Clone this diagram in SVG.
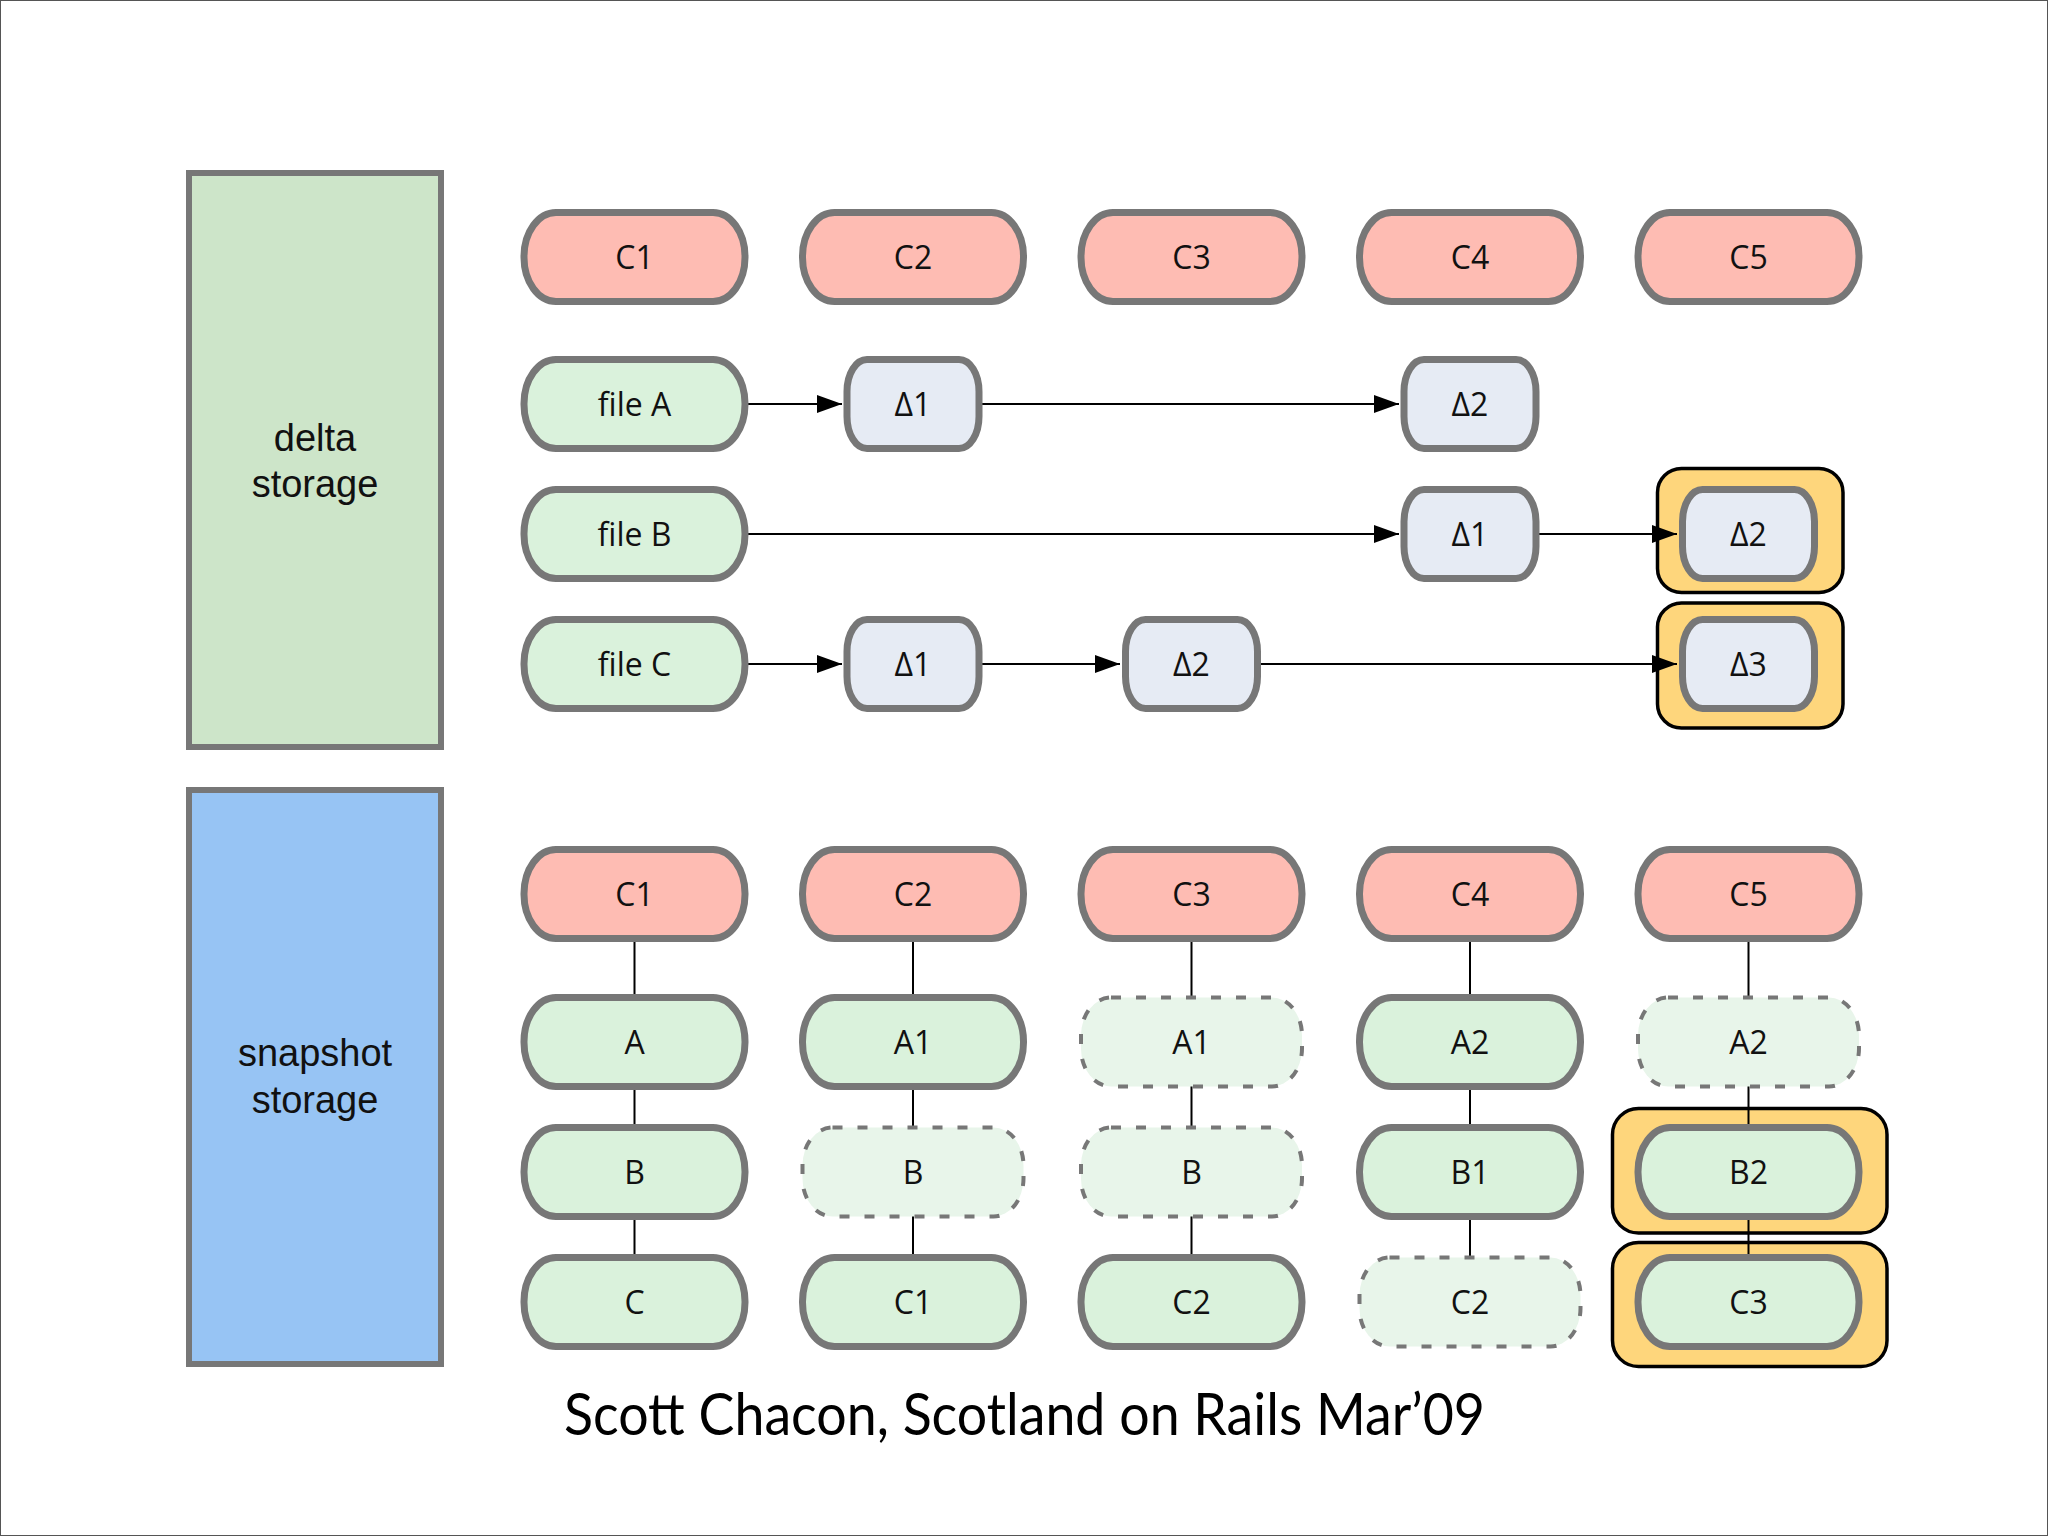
<svg xmlns="http://www.w3.org/2000/svg" width="2048" height="1536" viewBox="0 0 2048 1536">
<defs>
<style>
.commit{fill:#febcb3;stroke:#777;stroke-width:7}
.file{fill:#daf2dc;stroke:#777;stroke-width:7}
.delta{fill:#e6ebf4;stroke:#777;stroke-width:7}
.ghost{fill:#e8f5ea;stroke:#777;stroke-width:4;stroke-dasharray:10 15}
.hl{fill:#fed67c;stroke:#000;stroke-width:3.5}
.panel{stroke:#777;stroke-width:6}
.lbl{font-family:"Open Sans","DejaVu Sans",sans-serif;font-size:32px;text-anchor:middle;fill:#111}
.plbl{font-family:"Liberation Sans",Arial,sans-serif;font-size:38px;text-anchor:middle;fill:#111}
.arrow{stroke:#000;stroke-width:2.2;fill:none;marker-end:url(#ah)}
.link{stroke:#000;stroke-width:2;fill:none}
</style>
<marker id="ah" markerUnits="userSpaceOnUse" markerWidth="26" markerHeight="18" refX="25" refY="9" orient="auto"><path d="M0,0 L25,9 L0,18 z" fill="#000"/></marker>
</defs>
<rect x="0.5" y="0.5" width="2047" height="1535" fill="#fff" stroke="#555" stroke-width="1"/>

<g id="delta-storage">
<rect class="panel" x="189" y="173" width="252" height="574" fill="#cde5c9"/>
<text class="plbl" x="315" y="451">delta</text>
<text class="plbl" x="315" y="497">storage</text>
</g>
<g id="snapshot-storage">
<rect class="panel" x="189" y="790" width="252" height="574" fill="#97c4f4"/>
<text class="plbl" x="315" y="1066">snapshot</text>
<text class="plbl" x="315" y="1113">storage</text>
</g>

<g id="highlights">
<rect class="hl" x="1657.5" y="468.5" width="185.5" height="124" rx="24"/>
<rect class="hl" x="1657.5" y="603" width="185.5" height="125" rx="24"/>
<rect class="hl" x="1612.5" y="1108.5" width="274.5" height="124.5" rx="26"/>
<rect class="hl" x="1612.5" y="1242.5" width="274.5" height="124" rx="26"/>
</g>

<g id="connectors">
<line class="arrow" x1="748" y1="404" x2="842" y2="404"/>
<line class="arrow" x1="982" y1="404" x2="1399" y2="404"/>
<line class="arrow" x1="748" y1="534" x2="1399" y2="534"/>
<line class="arrow" x1="1539" y1="534" x2="1677" y2="534"/>
<line class="arrow" x1="748" y1="664" x2="842" y2="664"/>
<line class="arrow" x1="982" y1="664" x2="1120" y2="664"/>
<line class="arrow" x1="1260" y1="664" x2="1677" y2="664"/>
<line class="link" x1="634.5" y1="894" x2="634.5" y2="1302"/>
<line class="link" x1="913" y1="894" x2="913" y2="1302"/>
<line class="link" x1="1191.5" y1="894" x2="1191.5" y2="1302"/>
<line class="link" x1="1470" y1="894" x2="1470" y2="1302"/>
<line class="link" x1="1748.5" y1="894" x2="1748.5" y2="1302"/>
</g>

<g id="d-c1"><rect class="commit" x="524" y="212.5" width="221" height="89" rx="32" ry="44"/><text class="lbl" x="634.5" y="268.5">C1</text></g>
<g id="d-c2"><rect class="commit" x="802.5" y="212.5" width="221" height="89" rx="32" ry="44"/><text class="lbl" x="913" y="268.5">C2</text></g>
<g id="d-c3"><rect class="commit" x="1081" y="212.5" width="221" height="89" rx="32" ry="44"/><text class="lbl" x="1191.5" y="268.5">C3</text></g>
<g id="d-c4"><rect class="commit" x="1359.5" y="212.5" width="221" height="89" rx="32" ry="44"/><text class="lbl" x="1470" y="268.5">C4</text></g>
<g id="d-c5"><rect class="commit" x="1638" y="212.5" width="221" height="89" rx="32" ry="44"/><text class="lbl" x="1748.5" y="268.5">C5</text></g>

<g id="file-a"><rect class="file" x="524" y="359.5" width="221" height="89" rx="32" ry="44"/><text class="lbl" x="634.5" y="415.5">file A</text></g>
<g id="file-b"><rect class="file" x="524" y="489.5" width="221" height="89" rx="32" ry="44"/><text class="lbl" x="634.5" y="545.5">file B</text></g>
<g id="file-c"><rect class="file" x="524" y="619.5" width="221" height="89" rx="32" ry="44"/><text class="lbl" x="634.5" y="675.5">file C</text></g>

<g id="a-d1"><rect class="delta" x="847" y="359.5" width="132" height="89" rx="20" ry="32"/><text class="lbl" x="913" y="415.5">Δ1</text></g>
<g id="a-d2"><rect class="delta" x="1404" y="359.5" width="132" height="89" rx="20" ry="32"/><text class="lbl" x="1470" y="415.5">Δ2</text></g>
<g id="b-d1"><rect class="delta" x="1404" y="489.5" width="132" height="89" rx="20" ry="32"/><text class="lbl" x="1470" y="545.5">Δ1</text></g>
<g id="b-d2"><rect class="delta" x="1682.5" y="489.5" width="132" height="89" rx="20" ry="32"/><text class="lbl" x="1748.5" y="545.5">Δ2</text></g>
<g id="c-d1"><rect class="delta" x="847" y="619.5" width="132" height="89" rx="20" ry="32"/><text class="lbl" x="913" y="675.5">Δ1</text></g>
<g id="c-d2"><rect class="delta" x="1125.5" y="619.5" width="132" height="89" rx="20" ry="32"/><text class="lbl" x="1191.5" y="675.5">Δ2</text></g>
<g id="c-d3"><rect class="delta" x="1682.5" y="619.5" width="132" height="89" rx="20" ry="32"/><text class="lbl" x="1748.5" y="675.5">Δ3</text></g>

<g id="s-c1"><rect class="commit" x="524" y="849.5" width="221" height="89" rx="32" ry="44"/><text class="lbl" x="634.5" y="905.5">C1</text></g>
<g id="s-c2"><rect class="commit" x="802.5" y="849.5" width="221" height="89" rx="32" ry="44"/><text class="lbl" x="913" y="905.5">C2</text></g>
<g id="s-c3"><rect class="commit" x="1081" y="849.5" width="221" height="89" rx="32" ry="44"/><text class="lbl" x="1191.5" y="905.5">C3</text></g>
<g id="s-c4"><rect class="commit" x="1359.5" y="849.5" width="221" height="89" rx="32" ry="44"/><text class="lbl" x="1470" y="905.5">C4</text></g>
<g id="s-c5"><rect class="commit" x="1638" y="849.5" width="221" height="89" rx="32" ry="44"/><text class="lbl" x="1748.5" y="905.5">C5</text></g>

<g id="s1-a"><rect class="file" x="524" y="997.5" width="221" height="89" rx="32" ry="44"/><text class="lbl" x="634.5" y="1053.5">A</text></g>
<g id="s1-b"><rect class="file" x="524" y="1127.5" width="221" height="89" rx="32" ry="44"/><text class="lbl" x="634.5" y="1183.5">B</text></g>
<g id="s1-c"><rect class="file" x="524" y="1257.5" width="221" height="89" rx="32" ry="44"/><text class="lbl" x="634.5" y="1313.5">C</text></g>

<g id="s2-a1"><rect class="file" x="802.5" y="997.5" width="221" height="89" rx="32" ry="44"/><text class="lbl" x="913" y="1053.5">A1</text></g>
<g id="s2-b"><rect class="ghost" x="802.5" y="1127.5" width="221" height="89" rx="30" ry="38"/><text class="lbl" x="913" y="1183.5">B</text></g>
<g id="s2-c1"><rect class="file" x="802.5" y="1257.5" width="221" height="89" rx="32" ry="44"/><text class="lbl" x="913" y="1313.5">C1</text></g>

<g id="s3-a1"><rect class="ghost" x="1081" y="997.5" width="221" height="89" rx="30" ry="38"/><text class="lbl" x="1191.5" y="1053.5">A1</text></g>
<g id="s3-b"><rect class="ghost" x="1081" y="1127.5" width="221" height="89" rx="30" ry="38"/><text class="lbl" x="1191.5" y="1183.5">B</text></g>
<g id="s3-c2"><rect class="file" x="1081" y="1257.5" width="221" height="89" rx="32" ry="44"/><text class="lbl" x="1191.5" y="1313.5">C2</text></g>

<g id="s4-a2"><rect class="file" x="1359.5" y="997.5" width="221" height="89" rx="32" ry="44"/><text class="lbl" x="1470" y="1053.5">A2</text></g>
<g id="s4-b1"><rect class="file" x="1359.5" y="1127.5" width="221" height="89" rx="32" ry="44"/><text class="lbl" x="1470" y="1183.5">B1</text></g>
<g id="s4-c2"><rect class="ghost" x="1359.5" y="1257.5" width="221" height="89" rx="30" ry="38"/><text class="lbl" x="1470" y="1313.5">C2</text></g>

<g id="s5-a2"><rect class="ghost" x="1638" y="997.5" width="221" height="89" rx="30" ry="38"/><text class="lbl" x="1748.5" y="1053.5">A2</text></g>
<g id="s5-b2"><rect class="file" x="1638" y="1127.5" width="221" height="89" rx="32" ry="44"/><text class="lbl" x="1748.5" y="1183.5">B2</text></g>
<g id="s5-c3"><rect class="file" x="1638" y="1257.5" width="221" height="89" rx="32" ry="44"/><text class="lbl" x="1748.5" y="1313.5">C3</text></g>

<text id="footer" x="564" y="1435" textLength="921" lengthAdjust="spacingAndGlyphs" font-family="Lato, 'Open Sans', sans-serif" font-size="59" fill="#000">Scott Chacon, Scotland on Rails Mar’09</text>
</svg>
